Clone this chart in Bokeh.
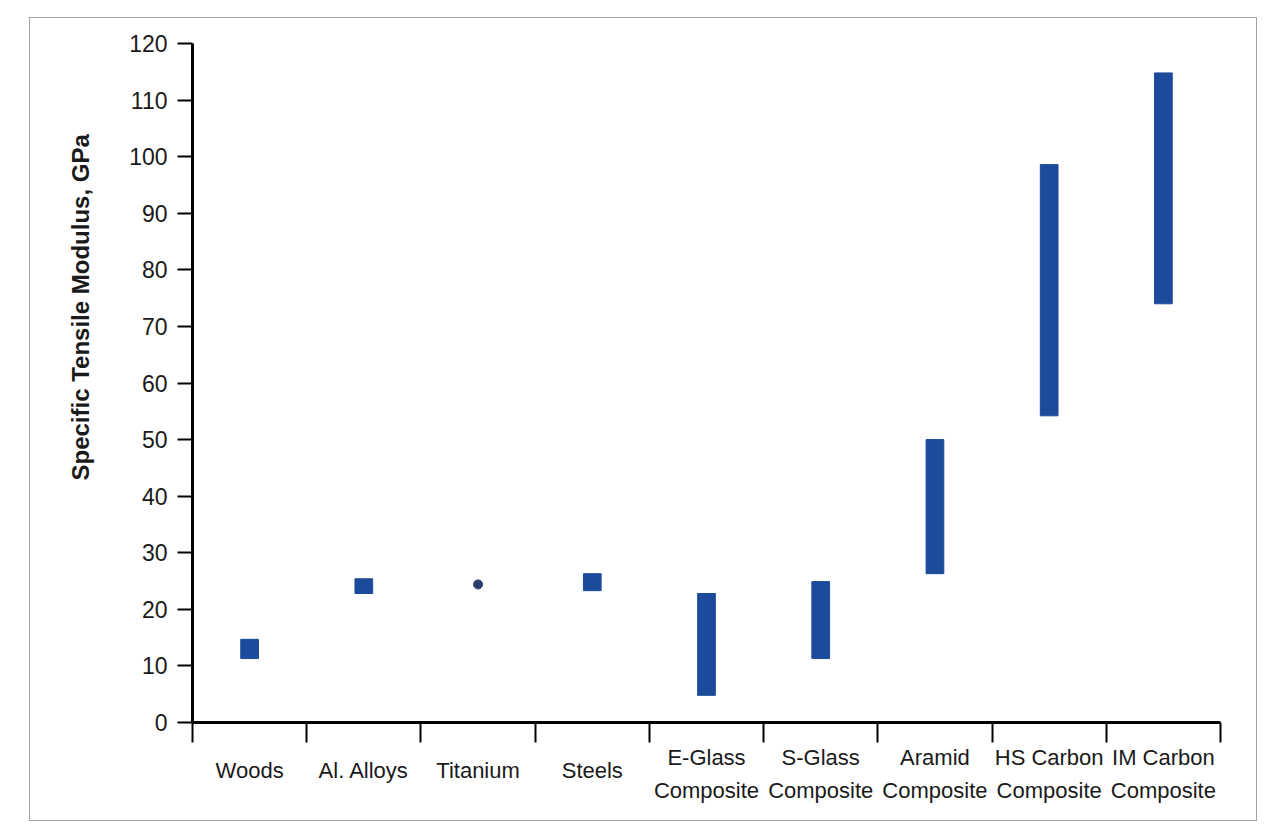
import math
from bokeh.plotting import figure
from bokeh.models import FixedTicker, Title, Range1d, LinearAxis
from bokeh.embed import file_html
from bokeh.resources import INLINE

# ---- data ----
categories = ["Woods", "Al. Alloys", "Titanium", "Steels",
              "E-Glass\nComposite", "S-Glass\nComposite", "Aramid\nComposite",
              "HS Carbon\nComposite", "IM Carbon\nComposite"]
range_low = [11.3, 22.8, None, 23.3, 4.8, 11.3, 26.3, 54.2, 74.0]
range_high = [14.7, 25.4, None, 26.3, 22.8, 24.9, 50.0, 98.6, 114.8]
point_category = "Titanium"
point_value = 24.4
y_ticks = list(range(0, 121, 10))
y_title = "Specific Tensile Modulus, GPa"

FONT = "Liberation Sans"
BAR = "#1d4b9b"
TXT = "#1a1a1a"

centers = [i + 0.5 for i in range(len(categories))]
bounds = list(range(len(categories) + 1))

bx = [centers[i] for i in range(len(categories)) if range_low[i] is not None]
bl = [v for v in range_low if v is not None]
bh = [v for v in range_high if v is not None]

p = figure(width=1228, height=804, output_backend="svg", toolbar_location=None,
           x_range=Range1d(0, len(categories)), y_range=Range1d(0, 120),
           min_border_left=162, min_border_right=38, min_border_top=25, min_border_bottom=100)
p.margin = (17, 0, 0, 29)
p.styles = {"border": "1px solid #a0a0a0"}
p.outline_line_color = None
p.xgrid.visible = False
p.ygrid.visible = False

p.vbar(x=bx, bottom=bl, top=bh, width=0.155, fill_color=BAR, line_color=BAR)
p.scatter(x=[centers[categories.index(point_category)]], y=[point_value], size=9,
          fill_color="#2a3d6c", line_color="#2a3d6c")

# y axis
ya = p.yaxis[0]
ya.ticker = FixedTicker(ticks=y_ticks)
ya.axis_line_width = 3
ya.axis_line_color = "black"
ya.major_tick_line_width = 2
ya.major_tick_out = 15
ya.major_tick_in = 0
ya.minor_tick_out = 0
ya.minor_tick_in = 0
ya.major_label_standoff = 10
ya.major_label_text_font = FONT
ya.major_label_text_font_size = "23px"
ya.major_label_text_color = TXT

# x axis: one-line labels on the main axis, two-line labels on a second label-only axis
single = [c for c in categories if "\n" not in c]
xa = p.xaxis[0]
xa.ticker = FixedTicker(ticks=centers, minor_ticks=bounds)
xa.major_label_overrides = {c: (lab if lab in single else "") for c, lab in zip(centers, categories)}
xa.axis_line_width = 3
xa.axis_line_color = "black"
xa.major_tick_out = 0
xa.major_tick_in = 0
xa.minor_tick_out = 20
xa.minor_tick_in = 0
xa.minor_tick_line_width = 2
xa.minor_tick_line_color = "black"
xa.major_label_standoff = 15
xa.major_label_text_font = FONT
xa.major_label_text_font_size = "22px"
xa.major_label_text_color = TXT
xa.major_label_text_line_height = 1.35

xb = LinearAxis(ticker=FixedTicker(ticks=centers, minor_ticks=[]))
xb.major_label_overrides = {c: (lab if lab not in single else "") for c, lab in zip(centers, categories)}
xb.axis_line_color = None
xb.major_tick_line_color = None
xb.minor_tick_line_color = None
xb.major_tick_out = 0
xb.major_tick_in = 0
xb.minor_tick_out = 0
xb.minor_tick_in = 0
xb.major_label_standoff = -41
xb.major_label_text_font = FONT
xb.major_label_text_font_size = "22px"
xb.major_label_text_color = TXT
xb.major_label_text_line_height = 1.35
p.add_layout(xb, "below")

p.add_layout(Title(text=y_title, align="left", offset=242, standoff=66,
                   text_font=FONT, text_font_size="24px", text_font_style="bold",
                   text_color=TXT), "left")

open("out.html", "w").write(file_html(p, INLINE))
